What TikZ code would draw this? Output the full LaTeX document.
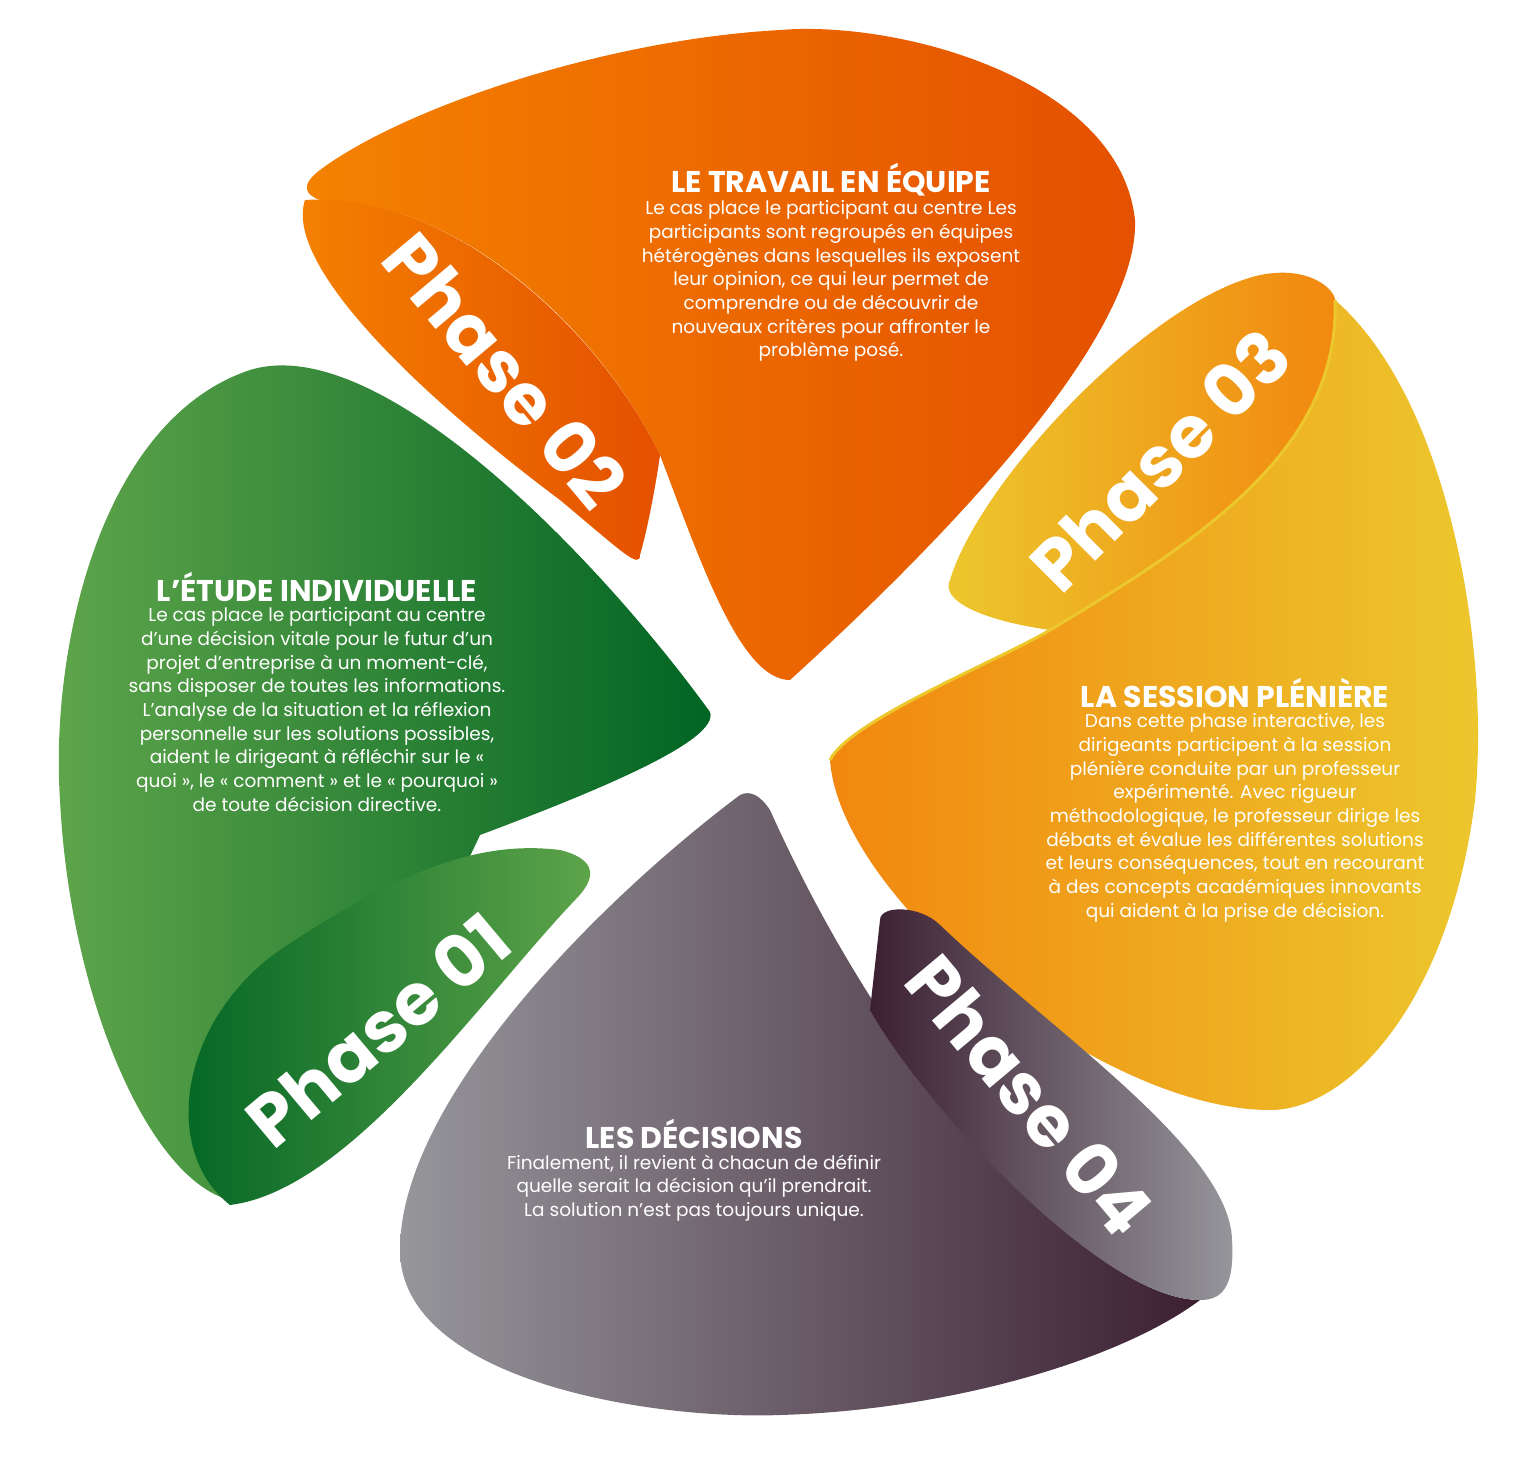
\documentclass[tikz,border=0pt]{standalone}
\usepackage{fontspec}
\setmainfont{Poppins}
\begin{document}
\begin{tikzpicture}[x=1pt,y=-1pt,
  body/.style={text=white,align=center,font=\fontsize{18.5}{23.7}\selectfont},
  ttl/.style={text=white,font=\bfseries\fontsize{30}{32}\selectfont},
  ph/.style={text=white,font=\bfseries\fontsize{72}{74}\selectfont}]
\useasboundingbox (0,0) rectangle (1536,1473);
\definecolor{gL}{RGB}{95,165,75}\definecolor{gD}{RGB}{0,100,35}
\definecolor{oL}{RGB}{245,130,0}\definecolor{oD}{RGB}{228,80,0}
\definecolor{yL}{RGB}{236,200,45}\definecolor{yD}{RGB}{242,135,15}
\definecolor{kL}{RGB}{150,150,155}\definecolor{kD}{RGB}{60,32,50}
% green
\shade[left color=gL,right color=gD] (710,712) .. controls (600,560) and (380,330) .. (250,370) .. controls (100,420) and (50,650) .. (60,800) .. controls (70,1000) and (150,1180) .. (230,1200) .. controls (350,1100) and (450,900) .. (480,835) .. controls (600,790) and (720,740) .. (710,712) -- cycle;
\shade[left color=gD,right color=gL] (230,1205) .. controls (160,1150) and (180,1020) .. (280,950) .. controls (400,870) and (480,840) .. (560,850) .. controls (600,860) and (595,880) .. (575,900) .. controls (480,1000) and (350,1190) .. (230,1205) -- cycle;
% orange
\shade[left color=oL,right color=oD] (790,680) .. controls (900,580) and (1140,350) .. (1135,220) .. controls (1120,80) and (900,20) .. (780,30) .. controls (600,40) and (400,110) .. (320,170) .. controls (300,185) and (305,195) .. (320,200) .. controls (460,200) and (600,330) .. (660,455) .. controls (700,560) and (740,680) .. (790,680) -- cycle;
\shade[left color=oL,right color=oD] (305,200) .. controls (285,260) and (400,380) .. (560,500) .. controls (620,550) and (640,570) .. (640,555) .. controls (650,520) and (658,470) .. (660,455) .. controls (600,330) and (450,190) .. (305,200) -- cycle;
% yellow
\shade[left color=yD,middle color=yD!85!yL,right color=yL] (830,760) .. controls (850,720) and (1000,660) .. (1050,630) .. controls (1200,540) and (1340,450) .. (1335,300) .. controls (1450,400) and (1490,650) .. (1475,800) .. controls (1450,1000) and (1350,1110) .. (1270,1110) .. controls (1100,1110) and (840,900) .. (830,760) -- cycle;
\shade[left color=yL,right color=yD] (1050,630) .. controls (980,620) and (940,600) .. (950,580) .. controls (980,480) and (1150,300) .. (1260,275) .. controls (1310,265) and (1335,290) .. (1335,300) .. controls (1340,450) and (1200,540) .. (1050,630) -- cycle;
\draw[yL,line width=3pt] (1335,300) .. controls (1340,450) and (1200,540) .. (1050,630) .. controls (1000,660) and (850,720) .. (830,760);
% gray
\shade[left color=kL,right color=kD] (740,795) .. controls (600,900) and (400,1100) .. (400,1250) .. controls (400,1380) and (650,1420) .. (780,1415) .. controls (950,1410) and (1120,1360) .. (1200,1300) .. controls (1100,1300) and (900,1100) .. (770,810) .. controls (760,795) and (750,790) .. (740,795) -- cycle;
\shade[left color=kD,right color=kL] (880,920) .. controls (880,905) and (920,905) .. (940,925) .. controls (1050,1030) and (1230,1150) .. (1232,1240) .. controls (1235,1290) and (1220,1300) .. (1200,1300) .. controls (1100,1300) and (920,1100) .. (870,1010) -- cycle;
% phase labels
\node[ph,rotate=-50] (p2) at (505,370) {Phase 02};
\node[ph,rotate=45] (p3) at (1160,460) {Phase 03};
\node[ph,rotate=40] (p1) at (378,1030) {Phase 01};
\node[ph,rotate=-50] (p4) at (1030,1095) {Phase 04};
% titles and bodies
\node[ttl] (t2) at (831,180) {LE TRAVAIL EN ÉQUIPE};
\node[body,anchor=north] (b2) at (831,197) {Le cas place le participant au centre Les\\participants sont regroupés en équipes\\hétérogènes dans lesquelles ils exposent\\leur opinion, ce qui leur permet de\\comprendre ou de découvrir de\\nouveaux critères pour affronter le\\problème posé.};
\node[ttl] (t1) at (317,587) {L'ÉTUDE INDIVIDUELLE};
\node[body,anchor=north] (b1) at (317,604) {Le cas place le participant au centre\\d'une décision vitale pour le futur d'un\\projet d'entreprise à un moment-clé,\\sans disposer de toutes les informations.\\L'analyse de la situation et la réflexion\\personnelle sur les solutions possibles,\\aident le dirigeant à réfléchir sur le «\\quoi », le « comment » et le « pourquoi »\\de toute décision directive.};
\node[ttl] (t3) at (1235,693) {LA SESSION PLÉNIÈRE};
\node[body,anchor=north] (b3) at (1235,710) {Dans cette phase interactive, les\\dirigeants participent à la session\\plénière conduite par un professeur\\expérimenté. Avec rigueur\\méthodologique, le professeur dirige les\\débats et évalue les différentes solutions\\et leurs conséquences, tout en recourant\\à des concepts académiques innovants\\qui aident à la prise de décision.};
\node[ttl] (t4) at (694,1134) {LES DÉCISIONS};
\node[body,anchor=north] (b4) at (694,1151) {Finalement, il revient à chacun de définir\\quelle serait la décision qu'il prendrait.\\La solution n'est pas toujours unique.};
\end{tikzpicture}
\end{document}
